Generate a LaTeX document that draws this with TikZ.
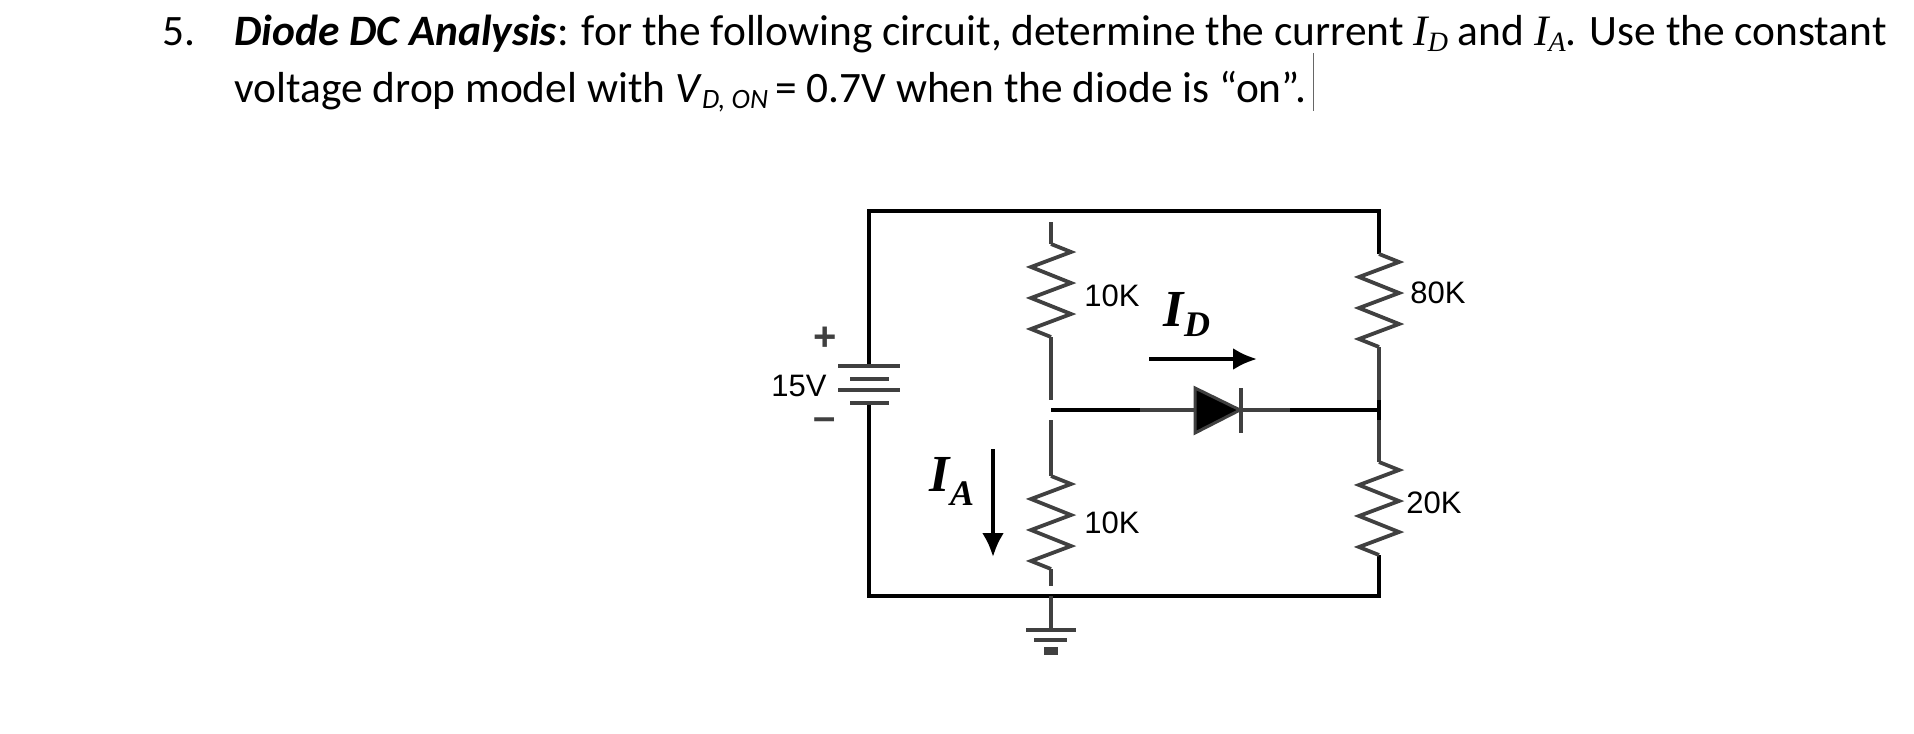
\documentclass[tikz,border=0pt]{standalone}
\usepackage{fontspec}
\setmainfont{Carlito}
\newfontfamily\arialf{Liberation Sans}
\newfontfamily\timesf{Liberation Serif}
\usetikzlibrary{arrows.meta}
\begin{document}
\begin{tikzpicture}[x=0.5pt,y=-0.5pt,
  wire/.style={line width=2pt,black},
  comp/.style={line width=1.9pt,black!75},
  lbl/.style={font=\arialf\fontsize{15.5}{16}\selectfont,inner sep=0pt},
  sgn/.style={font=\arialf\bfseries\fontsize{20}{20}\selectfont,inner sep=0pt,text=black!75},
  cur/.style={font=\timesf\fontsize{26}{26}\selectfont\bfseries\itshape,inner sep=0pt},
  arr/.style={line width=2pt,-{Latex[length=12pt,width=11pt]}},
  res/.pic={\draw[comp] (0,0) -- (20,8) -- (-20,23) -- (20,39) -- (-20,54) -- (20,70) -- (-20,85) -- (0,93);}
]
\useasboundingbox (0,0) rectangle (1914,733);

% title
\node[anchor=base west,inner sep=0pt,font=\fontsize{21.7}{22}\selectfont] (num) at (162,46) {5.};
\node[anchor=base west,inner sep=0pt,font=\fontsize{21.7}{22}\selectfont] (t1) at (234,46)
  {\textbf{\textit{Diode DC Analysis}}: for the following circuit, determine the current {\timesf\itshape I}{\timesf\itshape\fontsize{14}{14}\selectfont\raisebox{-3pt}{D}} and {\timesf\itshape I}{\timesf\itshape\fontsize{14}{14}\selectfont\raisebox{-3pt}{A}}. Use the constant};
\node[anchor=base west,inner sep=0pt,font=\fontsize{21.7}{22}\selectfont] (t2) at (234,103)
  {voltage drop model with \textit{V}{\fontsize{14}{14}\selectfont\raisebox{-3pt}{\textit{D, ON}}}\,= 0.7V when the diode is “on”.};
\draw[line width=0.6pt,black!60] ([xshift=3pt]t2.base east) ++(0,-50) -- ++(0,58);

% corners and nodes
\coordinate (tl) at (869,211);
\coordinate (tm) at (1051,211);
\coordinate (tr) at (1379,211);
\coordinate (bl) at (869,596);
\coordinate (bm) at (1051,596);
\coordinate (br) at (1379,596);
\coordinate (ml) at (1051,410);
\coordinate (mr) at (1379,410);
\coordinate (gnd) at (1051,629);

% frame
\draw[wire] (tl) -- (tr) -- (br) -- (bl) -- cycle;
\draw[wire] (ml) -- (mr);

% battery
\draw[wire,white,line width=3pt] (869,366) -- (869,403);
\draw[comp] (838,366) -- (900,366);
\draw[comp] (850,379) -- (889,379);
\draw[comp] (838,390) -- (900,390);
\draw[comp] (850,403) -- (889,403);
\node[sgn] (plus) at (825,339) {+};
\node[sgn] (minus) at (825,424) {–};
\node[lbl,anchor=east] (v) at (827,386) {15V};

% resistors
\draw[wire,white,line width=3pt] (1051,244) -- (1051,337) (1051,476) -- (1051,569)
  (1379,254) -- (1379,347) (1379,462) -- (1379,555);
\draw[comp] (1051,222) -- (1051,244) (1051,337) -- (1051,400) (1051,420) -- (1051,476) (1051,569) -- (1051,586);
\draw[comp] (1379,347) -- (1379,400) (1379,420) -- (1379,462);
\pic at (1051,244) {res};
\pic at (1051,476) {res};
\pic at (1379,254) {res};
\pic at (1379,462) {res};
\node[lbl,anchor=west] (r1) at (1084,296) {10K};
\node[lbl,anchor=west] (r2) at (1084,523) {10K};
\node[lbl,anchor=west] (r3) at (1410,293) {80K};
\node[lbl,anchor=west] (r4) at (1406,503) {20K};

% diode
\draw[wire,white,line width=3pt] (1140,410) -- (1290,410);
\draw[comp] (1140,410) -- (1290,410);
\draw[fill=black,draw=black!75,line width=1.5pt] (1195,388) -- (1240,410) -- (1195,433) -- cycle;
\draw[comp] (1241,388) -- (1241,433);

% currents
\node[cur] (id) at (1187,315) {I\raisebox{-5pt}{\fontsize{18}{18}\selectfont D}};
\coordinate (ida) at (1149,359);
\coordinate (idb) at (1257,359);
\draw[arr] (ida) -- (idb);
\node[cur] (ia) at (952,481) {I\raisebox{-7pt}{\fontsize{18}{18}\selectfont A}};
\coordinate (iaa) at (993,449);
\coordinate (iab) at (993,557);
\draw[arr] (iaa) -- (iab);

% ground
\draw[comp] (bm) -- (gnd);
\draw[comp] (1026,630) -- (1076,630);
\draw[comp] (1034,640) -- (1067,640);
\draw[line width=4pt,black!75] (1044,651) -- (1058,651);
\end{tikzpicture}
\end{document}
